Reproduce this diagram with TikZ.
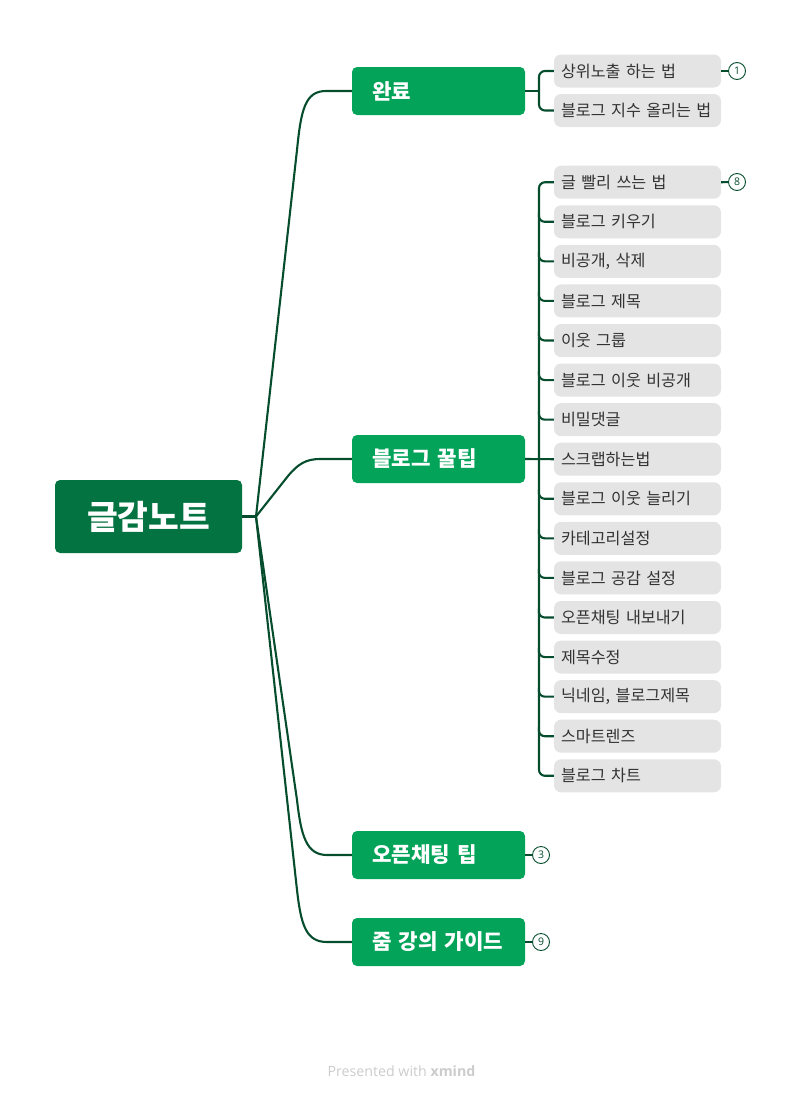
\documentclass[tikz,border=0pt]{standalone}
\usepackage{fontspec}
\setmainfont{Noto Sans CJK KR}
\newfontfamily\latinfont{Open Sans}
\usetikzlibrary{calc,matrix}
\definecolor{rootgreen}{HTML}{047342}
\definecolor{maingreen}{HTML}{03A45A}
\definecolor{linegreen}{HTML}{064D2E}
\definecolor{leafgray}{HTML}{E4E4E4}
\definecolor{leaftext}{HTML}{333333}
\tikzset{
	rootbox/.style={fill=rootgreen,rounded corners=5pt,minimum width=187pt,minimum height=73pt,text=white,font=\bfseries\fontsize{33.4}{36}\selectfont},
	mainbox/.style={fill=maingreen,rounded corners=5pt,minimum width=173pt,minimum height=48pt,text=white,text width=133pt,font=\bfseries\fontsize{21.2}{25}\selectfont},
	leafbox/.style={fill=leafgray,rounded corners=7pt,minimum width=167pt,minimum height=33pt,inner xsep=7pt,text width=153pt,text=leaftext,font=\fontsize{16.2}{19}\selectfont},
	countmark/.style={draw=linegreen,circle,fill=white,line width=0.9pt,minimum size=17pt,inner sep=0pt,text=linegreen,font=\latinfont\fontsize{10.5}{12}\selectfont},
	branch/.style={draw=linegreen,line width=2.1pt},
}
\begin{document}
\begin{tikzpicture}[x=1pt,y=-1pt]
	\useasboundingbox (0,0) rectangle (800,1098);

	\node[rootbox] (root) at (148.5,516.5) {글감노트};
	\node[mainbox] (done) at (438.5,91) {완료};
	\node[mainbox] (tips) at (438.5,459) {블로그 꿀팁};
	\node[mainbox] (chat) at (438.5,855) {오픈채팅 팁};
	\node[mainbox] (zoom) at (438.5,942) {줌 강의 가이드};
	\coordinate (hub) at (256,516.5);

	\node[leafbox] (rank) at (637.5,71) {상위노출 하는 법};
	\node[leafbox] (index) at (637.5,110.5) {블로그 지수 올리는 법};

	\matrix (list) at (637.5,479) [matrix of nodes,nodes={leafbox},row sep=6.57pt]{
		글 빨리 쓰는 법 \\
		블로그 키우기 \\
		비공개, 삭제 \\
		블로그 제목 \\
		이웃 그룹 \\
		블로그 이웃 비공개 \\
		비밀댓글 \\
		스크랩하는법 \\
		블로그 이웃 늘리기 \\
		카테고리설정 \\
		블로그 공감 설정 \\
		오픈채팅 내보내기 \\
		제목수정 \\
		닉네임, 블로그제목 \\
		스마트렌즈 \\
		블로그 차트 \\
	};

	\node[countmark] (one) at (737,71) {1};
	\node[countmark] (eight) at (737,182) {8};
	\node[countmark] (three) at (541,855) {3};
	\node[countmark] (nine) at (541,942) {9};

	% root to the four main topics
	\draw[branch] (root.east) -- (hub);
	\draw[branch] (hub) -- (297,150) .. controls (301,110) and (305,91) .. (326,91) -- (done.west);
	\draw[branch] (hub) -- (288,476) .. controls (298,464) and (306,459) .. (320,459) -- (tips.west);
	\draw[branch] (hub) -- (297,800) .. controls (301,835) and (306,855) .. (327,855) -- (chat.west);
	\draw[branch] (hub) -- (297,890) .. controls (301,925) and (306,942) .. (327,942) -- (zoom.west);

	% first group
	\draw[branch] (done.east) -- (539,91);
	\draw[branch,rounded corners=6pt] (rank.west) -| (539,91) |- (index.west);

	% long group, trunk and stubs
	\draw[branch] (tips.east) -- (list-8-1.west);
	\draw[branch,rounded corners=6pt] (list-1-1.west) -| (539,459) |- (list-16-1.west);
	\foreach \i in {2,...,7,9,10,...,15}
		\draw[branch,rounded corners=6pt] ($(list-\i-1.west)+(-15,-9)$) |- (list-\i-1.west);

	\draw[branch] (rank.east) -- (one);
	\draw[branch] (list-1-1.east) -- (eight);
	\draw[branch] (chat.east) -- (three);
	\draw[branch] (zoom.east) -- (nine);

	\node[text=black!20,font=\latinfont\fontsize{14.2}{17}\selectfont] (credit) at (401.5,1071) {Presented with \textbf{xmind}};
\end{tikzpicture}
\end{document}
